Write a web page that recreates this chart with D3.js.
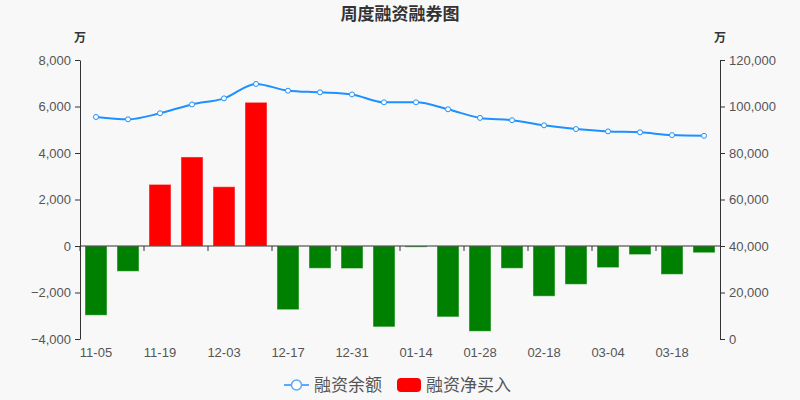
<html>
<head>
<meta charset="utf-8">
<style type="text/css">
  body { margin: 0; background: #f8f8f8; }
  text { font-family: Arial, "Liberation Sans", "Noto Sans CJK SC", sans-serif; }
</style>
</head>
<body>
<svg id="chart" width="800" height="400"></svg>
<script src="https://cdn.jsdelivr.net/npm/d3@7/dist/d3.min.js"></script>
<script>
  // DATA
  var dates = ["11-05", "11-12", "11-19", "11-26", "12-03", "12-10", "12-17", "12-24", "12-31", "01-07",
               "01-14", "01-21", "01-28", "02-04", "02-18", "02-25", "03-04", "03-11", "03-18", "03-25"];
  var netBuy = [-2980, -1090, 2650, 3830, 2550, 6180, -2740, -960, -970, -3480,
                -50, -3050, -3670, -960, -2160, -1650, -930, -370, -1220, -290];
  var balance = [95500, 94500, 97100, 100900, 103500, 109700, 106800, 106100, 105200, 101800,
                 101800, 98800, 95100, 94100, 91900, 90300, 89300, 88900, 87700, 87400];
  var leftTicks = [-4000, -2000, 0, 2000, 4000, 6000, 8000];
  var rightTicks = [0, 20000, 40000, 60000, 80000, 100000, 120000];

  var svg = d3.select("#chart");
  svg.append("rect").attr("width", 800).attr("height", 400).attr("fill", "#f8f8f8");

  // plot area
  var plotL = 80, plotR = 720, plotT = 60, plotB = 339;

  var x = d3.scaleBand().domain(d3.range(dates.length)).range([plotL, plotR]);
  var y = d3.scaleLinear().domain([-4000, 8000]).range([plotB, plotT]);
  var y2 = d3.scaleLinear().domain([0, 120000]).range([plotB, plotT]);
  var fmt = d3.format(",");

  // title
  svg.append("text")
    .attr("x", 400).attr("y", 20)
    .attr("text-anchor", "middle")
    .attr("font-size", 17).attr("font-weight", "bold")
    .attr("fill", "#333")
    .text("周度融资融券图");

  // unit labels
  svg.append("text").attr("x", 80).attr("y", 42).attr("text-anchor", "middle")
    .attr("font-size", 12).attr("font-weight", "bold").attr("fill", "#333").text("万");
  svg.append("text").attr("x", 720).attr("y", 42).attr("text-anchor", "middle")
    .attr("font-size", 12).attr("font-weight", "bold").attr("fill", "#333").text("万");

  // left axis
  var leftAxis = svg.append("g")
    .attr("transform", "translate(" + plotL + ",0)")
    .call(d3.axisLeft(y).tickValues(leftTicks).tickFormat(fmt).tickSize(5).tickSizeOuter(0).tickPadding(4));
  // right axis
  var rightAxis = svg.append("g")
    .attr("transform", "translate(" + plotR + ",0)")
    .call(d3.axisRight(y2).tickValues(rightTicks).tickFormat(fmt).tickSize(5).tickSizeOuter(0).tickPadding(4));

  [leftAxis, rightAxis].forEach(function(a) {
    a.select(".domain").attr("stroke", "#333");
    a.selectAll(".tick line").attr("stroke", "#333");
    a.selectAll(".tick text").attr("fill", "#555").attr("font-size", 13)
      .style("font-family", "Arial, 'Liberation Sans', sans-serif");
  });

  // bars
  var barW = 22;
  svg.append("g").selectAll("rect")
    .data(netBuy)
    .enter()
    .append("rect")
    .attr("x", function(d, i) { return x(i) + x.bandwidth() / 2 - barW / 2; })
    .attr("y", function(d) { return d >= 0 ? y(d) : y(0); })
    .attr("width", barW)
    .attr("height", function(d) { return Math.abs(y(d) - y(0)); })
    .attr("fill", function(d) { return d >= 0 ? "#ff0000" : "#008000"; })
    .attr("stroke", "#ffffff").attr("stroke-opacity", 0.45).attr("stroke-width", 1);

  // x axis at zero
  var xg = svg.append("g");
  xg.append("line")
    .attr("x1", plotL).attr("x2", plotR)
    .attr("y1", y(0)).attr("y2", y(0))
    .attr("stroke", "#333");
  var shown = d3.range(0, dates.length, 2);
  xg.selectAll("line.tk")
    .data(shown)
    .enter()
    .append("line")
    .attr("class", "tk")
    .attr("x1", function(i) { return x(i); }).attr("x2", function(i) { return x(i); })
    .attr("y1", y(0)).attr("y2", y(0) + 5)
    .attr("stroke", "#333");
  xg.selectAll("text")
    .data(shown)
    .enter()
    .append("text")
    .attr("x", function(i) { return x(i) + x.bandwidth() / 2; })
    .attr("y", 357)
    .attr("text-anchor", "middle")
    .attr("font-size", 13).attr("fill", "#555")
    .text(function(i) { return dates[i]; });

  // balance line
  var lineColor = "#1e90ff";
  var line = d3.line()
    .x(function(d, i) { return x(i) + x.bandwidth() / 2; })
    .y(function(d) { return y2(d); })
    .curve(d3.curveMonotoneX);

  svg.append("path")
    .datum(balance)
    .attr("d", line)
    .attr("fill", "none")
    .attr("stroke", lineColor)
    .attr("stroke-width", 2);

  svg.append("g").selectAll("circle")
    .data(balance)
    .enter()
    .append("circle")
    .attr("cx", function(d, i) { return x(i) + x.bandwidth() / 2; })
    .attr("cy", function(d) { return y2(d); })
    .attr("r", 2.5)
    .attr("fill", "#fff")
    .attr("stroke", lineColor)
    .attr("stroke-width", 1);

  // legend
  var lg = svg.append("g");
  lg.append("line").attr("x1", 284).attr("x2", 309).attr("y1", 385).attr("y2", 385)
    .attr("stroke", "#5aa9ff").attr("stroke-width", 2);
  lg.append("circle").attr("cx", 296.5).attr("cy", 385).attr("r", 5)
    .attr("fill", "#fff").attr("stroke", "#5aa9ff").attr("stroke-width", 1.5);
  lg.append("text").attr("x", 314).attr("y", 391).attr("font-size", 17).attr("fill", "#555").text("融资余额");
  lg.append("rect").attr("x", 397).attr("y", 378).attr("width", 24).attr("height", 14).attr("rx", 4)
    .attr("fill", "#ff0000");
  lg.append("text").attr("x", 426).attr("y", 391).attr("font-size", 17).attr("fill", "#555").text("融资净买入");
</script>
</body>
</html>
